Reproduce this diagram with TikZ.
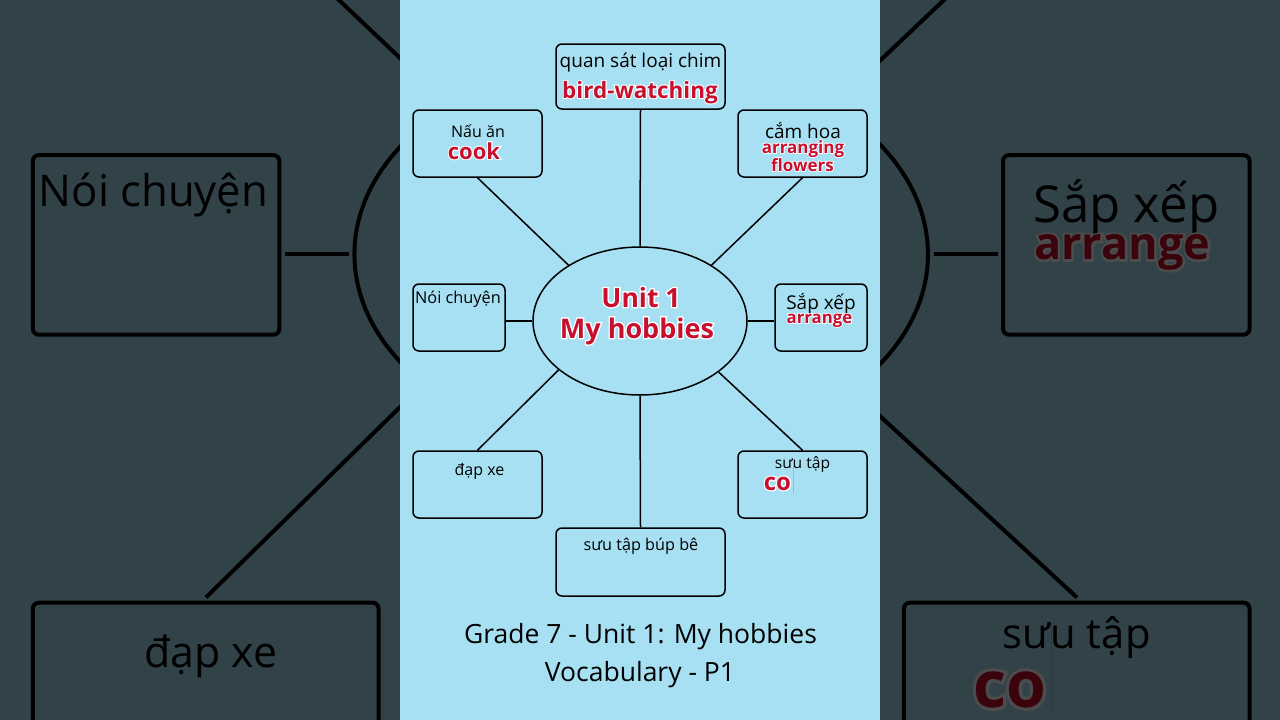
\documentclass[tikz,border=0pt]{standalone}
\usepackage{fontspec}
\setmainfont{Open Sans}
\newfontfamily\halofam{Open Sans}[BoldFeatures={FakeBold=10}]
\usetikzlibrary{shapes.geometric}
\definecolor{bgblue}{RGB}{166,224,242}
\definecolor{hred}{RGB}{200,16,46}
\newcommand\fs[1]{\fontsize{#1}{#1}\selectfont}
\newcommand\halo[1]{\leavevmode\rlap{\halofam\bfseries\textcolor{white}{#1}}#1}
\def\lw{1.5pt}
\tikzset{
  box/.style={draw=black, line width=\lw, rounded corners=6pt, inner sep=0pt},
  conn/.style={draw=black, line width=\lw},
  lbl/.style={anchor=base, inner sep=0pt, text=black},
  redlbl/.style={anchor=base, inner sep=0pt, text=hred, font=\bfseries},
}
\newcommand\mydiagram{%
  % boxes
  \node[box, minimum width=169pt, minimum height=65pt] (b1) at (640.5,76.5) {};
  \node[box, minimum width=129pt, minimum height=67pt] (b2) at (477.5,143.5) {};
  \node[box, minimum width=129pt, minimum height=67pt] (b3) at (802.5,143.5) {};
  \node[box, minimum width=92pt, minimum height=67pt] (b4) at (459,317.5) {};
  \node[box, minimum width=92pt, minimum height=67pt] (b5) at (821,317.5) {};
  \node[box, minimum width=129pt, minimum height=67pt] (b6) at (477.5,484.5) {};
  \node[box, minimum width=129pt, minimum height=67pt] (b7) at (802.5,484.5) {};
  \node[box, minimum width=169pt, minimum height=68pt] (b8) at (640.5,562) {};
  \node[draw=black, ellipse, line width=\lw, minimum width=214pt, minimum height=148pt, inner sep=0pt] (u) at (640,321) {};
  % connectors
  \draw[conn] (b1.south) -- (u.north);
  \draw[conn] (b2.south) -- (u.142);
  \draw[conn] (b3.south) -- (u.38);
  \draw[conn] (u.west) -- (u.west -| b4.east);
  \draw[conn] (u.east) -- (u.east -| b5.west);
  \draw[conn] (b6.north) -- (u.211.5);
  \draw[conn] (b7.north) -- (u.327.5);
  \draw[conn] (u.south) -- (b8.north);
  % labels
  \node[lbl, font=\fs{19}] (t1) at (640.5,67) {quan sát loại chim};
  \node[redlbl, font=\fs{22.5}\bfseries] (r1) at (640,98) {\halo{bird-watching}};
  \node[lbl, font=\fs{16}] (t2) at (478,137) {Nấu ăn};
  \node[redlbl, font=\fs{22}\bfseries] (r2) at (474,159) {\halo{cook}};
  \node[lbl, font=\fs{19}] (t3) at (803,138) {cắm hoa};
  \node[redlbl, font=\fs{17}\bfseries] (r3) at (803,153) {\halo{arranging}};
  \node[redlbl, font=\fs{17}\bfseries] (r3b) at (802.5,171) {\halo{flowers}};
  \node[lbl, font=\fs{16.3}] (t4) at (458,303) {Nói chuyện};
  \node[lbl, font=\fs{19}] (t5) at (821,309) {Sắp xếp};
  \node[redlbl, font=\fs{16.8}\bfseries] (r5) at (819.5,323) {\halo{arrange}};
  \node[lbl, font=\fs{16}] (t6) at (479.5,475) {đạp xe};
  \node[lbl, font=\fs{15.6}] (t7) at (802.5,468) {sưu tập};
  \node[redlbl, font=\fs{24}\bfseries] (r7) at (777.5,490) {\halo{co}};
  \draw[gray!60, line width=0.6pt] (793,460) -- (793,493);
  \node[lbl, font=\fs{16.2}] (t8) at (641,550) {sưu tập búp bê};
  \node[redlbl, font=\fs{26.5}\bfseries] (ua) at (641,307) {\halo{Unit 1}};
  \node[redlbl, font=\fs{27}\bfseries] (ub) at (637,338) {\halo{My hobbies}};
}
\begin{document}
\begin{tikzpicture}[x=1pt,y=-1pt]
\useasboundingbox (0,0) rectangle (1280,720);
\fill[bgblue] (0,0) rectangle (1280,720);
\begin{scope}
  \clip (0,0) rectangle (1280,720);
  \begin{scope}[shift={(-1074,-606)}, scale=2.68, transform shape, name prefix=bg-]
    \def\lw{4pt}
    \mydiagram
  \end{scope}
\end{scope}
\fill[black, opacity=0.7] (0,0) rectangle (1280,720);
\fill[bgblue] (400,0) rectangle (880,720);
\def\lw{1.5pt}
\mydiagram
\node[lbl, font=\fs{26.5}] (cap1) at (640.5,643) {Grade 7 - Unit 1: My hobbies};
\node[lbl, font=\fs{26.5}] (cap2) at (640,681) {Vocabulary - P1};
\end{tikzpicture}
\end{document}
